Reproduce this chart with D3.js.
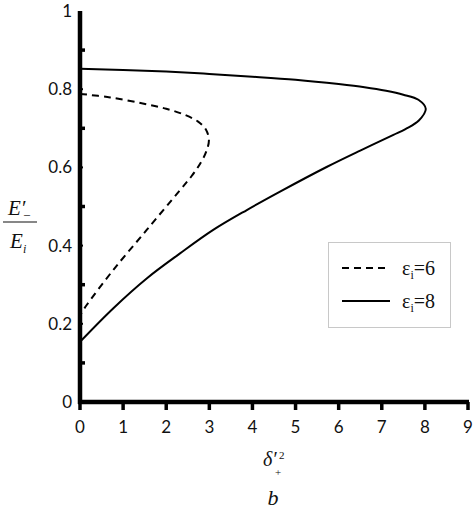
<!DOCTYPE html>
<html lang="en">
<head>
<meta charset="UTF-8">
<title>E'/Ei vs delta'^2</title>
<script src="https://d3js.org/d3.v7.min.js"></script>
<style>
  body { margin: 0; background: #fff; }
  svg { display: block; }
  .tick-label { font-family: Lato, 'Open Sans', sans-serif; font-size: 17px; fill: #111; }
</style>
</head>
<body>
<div id="chart"></div>
<script>
const SERIF = "'Liberation Serif', 'DejaVu Serif', serif";

// curve for eps_i = 6 (dashed), traced top branch -> turning point -> bottom branch
const eps6X = [0, 0.7, 1.43, 2.0, 2.44, 2.74, 2.92, 2.99, 2.93, 2.8, 2.59, 2.32, 1.547, 0.774, 0.155, 0];
const eps6Y = [0.788, 0.779, 0.764, 0.75, 0.734, 0.717, 0.697, 0.67, 0.641, 0.612, 0.578, 0.542, 0.44, 0.338, 0.248, 0.222];

// curve for eps_i = 8 (solid)
const eps8X = [0, 1, 2, 3, 4, 5, 6, 6.6, 7.1, 7.5, 7.85, 8.02, 7.86, 7.55, 7.27, 6.5, 5.72, 4.64, 3.87, 3.09, 2.32, 1.547, 0.774, 0];
const eps8Y = [0.852, 0.849, 0.845, 0.839, 0.832, 0.824, 0.813, 0.805, 0.796, 0.786, 0.773, 0.75, 0.72, 0.698, 0.683, 0.643, 0.601, 0.538, 0.491, 0.44, 0.38, 0.316, 0.24, 0.154];

const xTicks = [0, 1, 2, 3, 4, 5, 6, 7, 8, 9];
const yTicks = [0, 0.2, 0.4, 0.6, 0.8, 1];
const yMinorTicks = [0.1, 0.3, 0.5, 0.7, 0.9];

const legendLabels = ['6', '8'];

const width = 474, height = 513;
const svg = d3.select('#chart').append('svg')
    .attr('width', width)
    .attr('height', height);

const x = d3.scaleLinear().domain([0, 9]).range([80, 468]);
const y = d3.scaleLinear().domain([0, 1]).range([402, 11]);

// curves
const line = d3.line()
    .x(d => x(d[0]))
    .y(d => y(d[1]))
    .curve(d3.curveCatmullRom.alpha(0.5));

svg.append('path')
    .datum(eps6X.map((v, i) => [v, eps6Y[i]]))
    .attr('d', line)
    .attr('fill', 'none')
    .attr('stroke', '#000')
    .attr('stroke-width', 2)
    .attr('stroke-dasharray', '7,5');

svg.append('path')
    .datum(eps8X.map((v, i) => [v, eps8Y[i]]))
    .attr('d', line)
    .attr('fill', 'none')
    .attr('stroke', '#000')
    .attr('stroke-width', 2);

// x axis
const xAxis = svg.append('g');
xAxis.append('line')
    .attr('x1', x(0) - 2).attr('x2', x(9) + 1)
    .attr('y1', y(0)).attr('y2', y(0))
    .attr('stroke', '#000').attr('stroke-width', 4.5);
xAxis.selectAll('.xt')
    .data(xTicks)
    .join('line')
    .attr('class', 'xt')
    .attr('x1', d => x(d)).attr('x2', d => x(d))
    .attr('y1', y(0)).attr('y2', y(0) + 8)
    .attr('stroke', '#000').attr('stroke-width', 3.5);
xAxis.selectAll('text')
    .data(xTicks)
    .join('text')
    .attr('class', 'tick-label')
    .attr('x', d => x(d))
    .attr('y', 433)
    .attr('text-anchor', 'middle')
    .text(d => d);

// y axis
const yAxis = svg.append('g');
yAxis.append('line')
    .attr('x1', x(0)).attr('x2', x(0))
    .attr('y1', y(0) + 2).attr('y2', y(1))
    .attr('stroke', '#000').attr('stroke-width', 4.5);
yAxis.selectAll('.ymin')
    .data(yMinorTicks)
    .join('line')
    .attr('class', 'ymin')
    .attr('x1', x(0)).attr('x2', x(0) + 5)
    .attr('y1', d => y(d)).attr('y2', d => y(d))
    .attr('stroke', '#000').attr('stroke-width', 3.5);
yAxis.selectAll('.ymaj')
    .data(yTicks.filter(d => d > 0 && d < 1))
    .join('line')
    .attr('class', 'ymaj')
    .attr('x1', x(0)).attr('x2', x(0) + 3)
    .attr('y1', d => y(d)).attr('y2', d => y(d))
    .attr('stroke', '#000').attr('stroke-width', 2);
yAxis.selectAll('text')
    .data(yTicks)
    .join('text')
    .attr('class', 'tick-label')
    .attr('x', 72)
    .attr('y', d => y(d) + 6)
    .attr('text-anchor', 'end')
    .text(d => d === 0 || d === 1 ? d : d.toFixed(1));

// y axis label: E'_- / E_i
const yl = svg.append('g')
    .style('font-family', SERIF).style('font-style', 'italic')
    .style('font-size', '21px').attr('fill', '#111');
yl.append('text').attr('x', 8).attr('y', 215).text('E′');
yl.append('text').attr('x', 24).attr('y', 218)
    .style('font-size', '12px').style('font-style', 'normal').text('–');
yl.append('line')
    .attr('x1', 3).attr('x2', 37)
    .attr('y1', 222).attr('y2', 222)
    .attr('stroke', '#111').attr('stroke-width', 1.2);
yl.append('text').attr('x', 10).attr('y', 248).text('E');
yl.append('text').attr('x', 23).attr('y', 253)
    .style('font-size', '12px').text('i');

// x axis label: delta'_+^2
const xl = svg.append('g')
    .style('font-family', SERIF).attr('fill', '#111');
xl.append('text').attr('x', 263).attr('y', 466)
    .style('font-size', '20px').style('font-style', 'italic').text('δ′');
xl.append('text').attr('x', 279).attr('y', 459)
    .style('font-size', '11px').text('2');
xl.append('text').attr('x', 275).attr('y', 476)
    .style('font-size', '11px').text('+');

svg.append('text')
    .style('font-family', SERIF).style('font-style', 'italic').style('font-size', '22px')
    .attr('fill', '#111')
    .attr('x', 273).attr('y', 505)
    .attr('text-anchor', 'middle')
    .text('b');

// legend
const lg = svg.append('g');
lg.append('rect')
    .attr('x', 328.5).attr('y', 242.5)
    .attr('width', 122).attr('height', 85)
    .attr('fill', '#fff')
    .attr('stroke', '#c8c8c8').attr('stroke-width', 1);
const legendRows = lg.selectAll('g.row')
    .data(legendLabels)
    .join('g')
    .attr('class', 'row')
    .attr('transform', (d, i) => `translate(0, ${268 + i * 33})`);
legendRows.append('line')
    .attr('x1', 342).attr('x2', 390)
    .attr('y1', 0).attr('y2', 0)
    .attr('stroke', '#000').attr('stroke-width', 2)
    .attr('stroke-dasharray', (d, i) => i === 0 ? '7,5' : null);
const lt = legendRows.append('text')
    .style('font-family', SERIF).style('font-size', '20px')
    .attr('fill', '#111')
    .attr('x', 402).attr('y', 7);
lt.append('tspan').text('ε');
lt.append('tspan').attr('dy', 4).style('font-size', '12px').text('i');
lt.append('tspan').attr('dy', -4).text(d => '=' + d);
</script>
</body>
</html>
